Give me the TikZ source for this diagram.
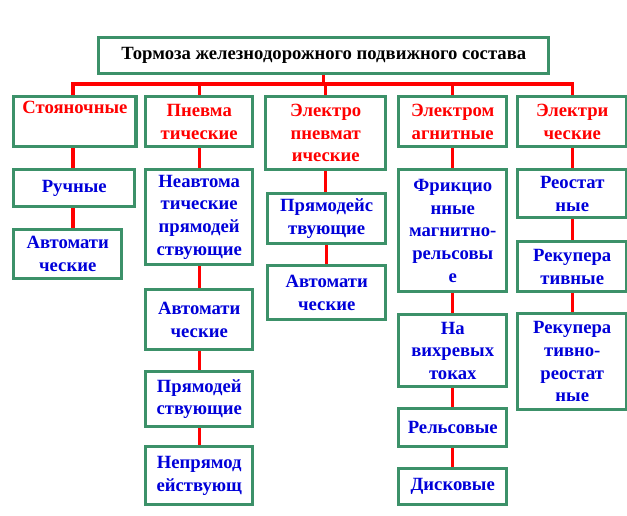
\documentclass[tikz,border=0pt]{standalone}
\usepackage{fontspec}
\setmainfont{Liberation Serif}
\begin{document}
\begin{tikzpicture}[x=0.75pt,y=-0.75pt,
  box/.style={draw=boxg,line width=2.6pt,fill=white,anchor=north west,inner sep=2pt,
    align=center,font=\fontsize{14}{17}\selectfont\bfseries},
  hd/.style={box,text=red},
  lf/.style={box,text=blue!85!black},
  conn/.style={draw=red,line width=2.4pt}]
\definecolor{boxg}{RGB}{60,145,105}
\useasboundingbox (0,0) rectangle (627,516);
% title
\node[box,minimum width=450*0.75pt,minimum height=36*0.75pt] (t) at (97,36) {Тормоза железнодорожного подвижного состава};
% col1
\node[hd,minimum width=121*0.75pt,minimum height=50*0.75pt,text width=117*0.75pt] (a0) at (12,95) {Стояночные\\\strut};
\node[lf,minimum width=121*0.75pt,minimum height=37*0.75pt,text width=110*0.75pt] (a1) at (12,168) {Ручные};
\node[lf,minimum width=108*0.75pt,minimum height=49*0.75pt,text width=100*0.75pt] (a2) at (12,228) {Автомати\\ческие};
% col2
\node[hd,minimum width=107*0.75pt,minimum height=50*0.75pt,text width=100*0.75pt] (b0) at (144,95) {Пневма\\тические};
\node[lf,minimum width=107*0.75pt,minimum height=95*0.75pt,text width=100*0.75pt] (b1) at (144,168) {Неавтома\\тические\\прямодей\\ствующие};
\node[lf,minimum width=107*0.75pt,minimum height=60*0.75pt,text width=100*0.75pt] (b2) at (144,288) {Автомати\\ческие};
\node[lf,minimum width=107*0.75pt,minimum height=55*0.75pt,text width=100*0.75pt] (b3) at (144,370) {Прямодей\\ствующие};
\node[lf,minimum width=107*0.75pt,minimum height=58*0.75pt,text width=100*0.75pt] (b4) at (144,445) {Непрямод\\ействующ};
% col3
\node[hd,minimum width=120*0.75pt,minimum height=73*0.75pt,text width=110*0.75pt] (c0) at (264,95) {Электро\\пневмат\\ические};
\node[lf,minimum width=118*0.75pt,minimum height=50*0.75pt,text width=112*0.75pt] (c1) at (266,192) {Прямодейс\\твующие};
\node[lf,minimum width=118*0.75pt,minimum height=54*0.75pt,text width=110*0.75pt] (c2) at (266,264) {Автомати\\ческие};
% col4
\node[hd,minimum width=108*0.75pt,minimum height=50*0.75pt,text width=100*0.75pt] (d0) at (397,95) {Электром\\агнитные};
\node[lf,minimum width=108*0.75pt,minimum height=122*0.75pt,text width=100*0.75pt] (d1) at (397,168) {Фрикцио\\нные\\магнитно-\\рельсовы\\е};
\node[lf,minimum width=108*0.75pt,minimum height=72*0.75pt,text width=100*0.75pt] (d2) at (397,313) {На\\вихревых\\токах};
\node[lf,minimum width=108*0.75pt,minimum height=38*0.75pt,text width=100*0.75pt] (d3) at (397,407) {Рельсовые};
\node[lf,minimum width=108*0.75pt,minimum height=36*0.75pt,text width=100*0.75pt] (d4) at (397,467) {Дисковые};
% col5
\node[hd,minimum width=109*0.75pt,minimum height=50*0.75pt,text width=100*0.75pt] (e0) at (516,95) {Электри\\ческие};
\node[lf,minimum width=109*0.75pt,minimum height=48*0.75pt,text width=100*0.75pt] (e1) at (516,168) {Реостат\\ные};
\node[lf,minimum width=109*0.75pt,minimum height=50*0.75pt,text width=100*0.75pt] (e2) at (516,240) {Рекупера\\тивные};
\node[lf,minimum width=109*0.75pt,minimum height=96*0.75pt,text width=100*0.75pt] (e3) at (516,312) {Рекупера\\тивно-\\реостат\\ные};
% connectors
\coordinate (bus) at (t.south |- 0,84);
\draw[conn] (t.south) -- (bus);
\draw[conn] (a0.north -| 73,0) |- (bus) -| (e0.north);
\foreach \p in {b0,c0,d0} {\draw[conn] (\p.north) -- (\p.north |- bus);}
\draw[conn] (a0.south -| 73,0) -- (a1.north -| 73,0);
\draw[conn] (a1.south -| 73,0) -- (a2.north -| 73,0);
\foreach \u/\v in {b0/b1,b1/b2,b2/b3,b3/b4,c0/c1,c1/c2,d0/d1,d1/d2,d2/d3,d3/d4,e0/e1,e1/e2,e2/e3}
  {\draw[conn] (\u.south) -- (\u.south |- \v.north);}
\end{tikzpicture}
\end{document}
